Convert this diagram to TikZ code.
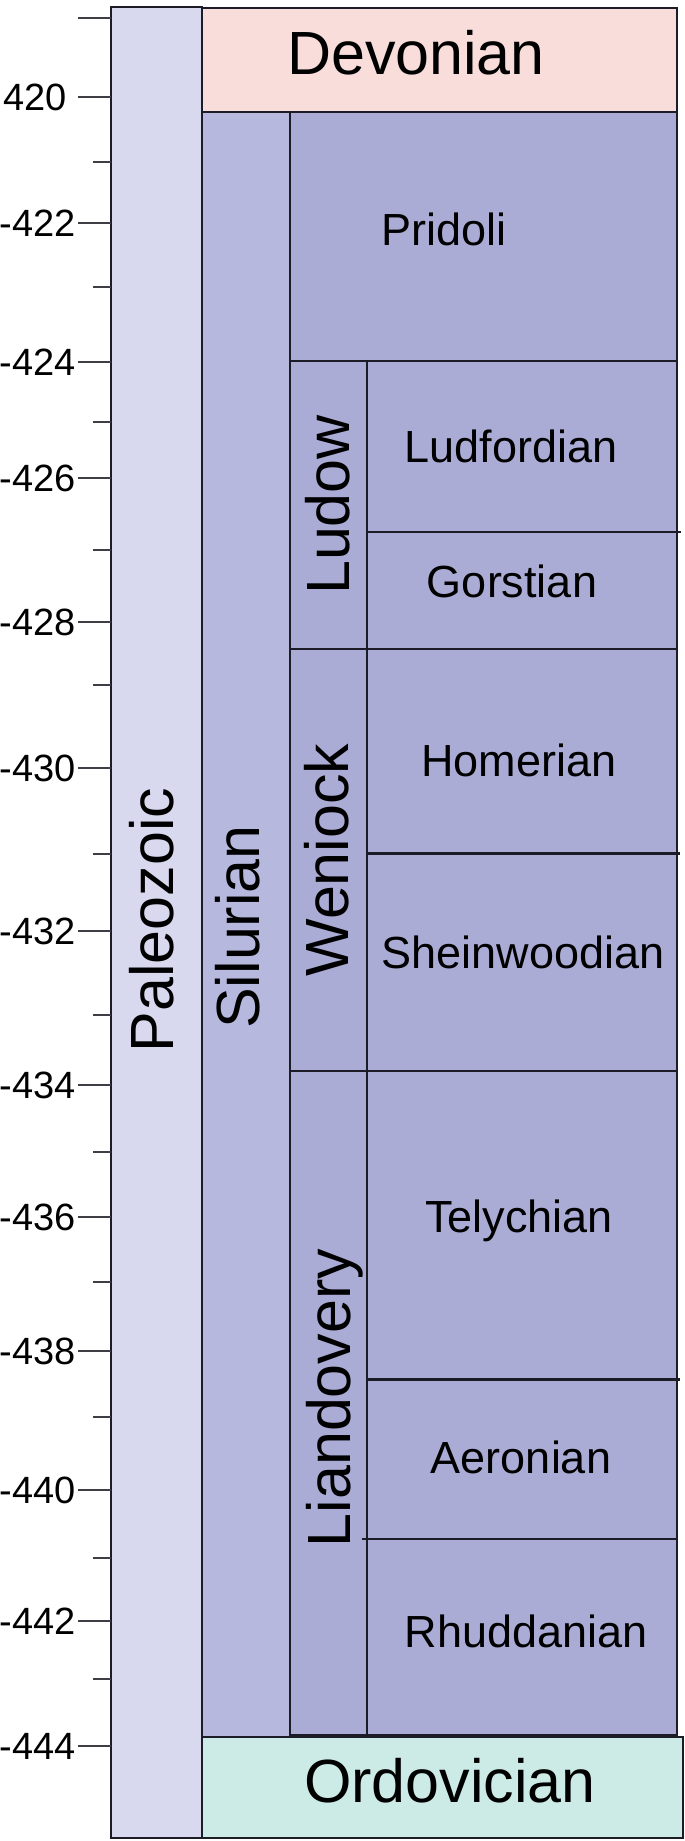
\documentclass[tikz,border=0pt]{standalone}
\usepackage{fontspec}
\setmainfont{Liberation Sans}
\definecolor{paleo}{RGB}{216,217,238}
\definecolor{devon}{RGB}{248,221,219}
\definecolor{silur}{RGB}{182,184,221}
\definecolor{stagec}{RGB}{170,172,213}
\definecolor{ordov}{RGB}{204,234,230}
\definecolor{linec}{RGB}{28,28,38}
\begin{document}
\begin{tikzpicture}[x=1pt,y=-1pt,
  frame/.style={draw=linec, line width=1.6pt},
  thickline/.style={draw=linec, line width=3pt},
  majtick/.style={draw=linec!85!white, line width=2.2pt},
  mintick/.style={draw=linec!85!white, line width=2.2pt},
  ticklab/.style={anchor=east, inner sep=0pt, font=\fontsize{38}{38}\selectfont},
  biglab/.style={inner sep=0pt, anchor=base, font=\fontsize{61}{61}\selectfont},
  stagelab/.style={inner sep=0pt, anchor=base, font=\fontsize{45}{45}\selectfont},
  vlab/.style={inner sep=0pt, anchor=base, rotate=90, font=\fontsize{61}{61}\selectfont}]
\useasboundingbox (0,0) rectangle (685,1841);
\fill[white] (0,0) rectangle (685,1841);

% columns
\filldraw[fill=paleo, frame] (111,7) rectangle (202,1838);
\filldraw[fill=devon, frame] (202,8) rectangle (677,112);
\filldraw[fill=silur, frame] (202,112) rectangle (290,1737);
% series
\filldraw[fill=stagec, frame] (290,112) rectangle (677,361);
\filldraw[fill=stagec, frame] (290,361) rectangle (367,649);
\filldraw[fill=stagec, frame] (290,649) rectangle (367,1071);
\filldraw[fill=stagec, frame] (290,1071) rectangle (367,1735);
% stages
\filldraw[fill=stagec, frame] (367,361) rectangle (677,532);
\filldraw[fill=stagec, frame] (367,532) rectangle (677,649);
\filldraw[fill=stagec, frame] (367,649) rectangle (677,853);
\filldraw[fill=stagec, frame] (367,853) rectangle (677,1071);
\filldraw[fill=stagec, frame] (367,1071) rectangle (677,1379);
\filldraw[fill=stagec, frame] (367,1379) rectangle (677,1539);
\filldraw[fill=stagec, frame] (367,1539) rectangle (677,1735);
\draw[frame] (677,532) -- (681,532);
\draw[thickline] (367,853) -- (680,853);
\draw[thickline] (367,1379) -- (680,1379);
\draw[frame] (362,1539) -- (367,1539);
% Ordovician
\filldraw[fill=ordov, frame] (202,1737) rectangle (683,1838);

% axis ticks
\foreach \y in {18,97,223,362,478,622,768,931,1085,1217,1351,1490,1621,1746}
  \draw[majtick] (78,\y) -- (111,\y);
\foreach \y in {162,287,422,550,685,854,1015,1152,1282,1417,1558,1679}
  \draw[mintick] (93,\y) -- (111,\y);
\node[ticklab] (t420) at (67,97) {420};
\foreach \y/\t in {223/-422,362/-424,478/-426,622/-428,768/-430,931/-432,1085/-434,1217/-436,1351/-438,1490/-440,1621/-442,1746/-444}
  \node[ticklab] (t\y) at (76,\y) {\t};

% labels
\node[biglab] (devonian) at (416,75) {Devonian};
\node[biglab] (ordovician) at (450,1802) {Ordovician};
\node[vlab] (paleozoic) at (173,920) {Paleozoic};
\node[vlab] (silurian) at (259,927) {Silurian};
\node[vlab] (ludow) at (349,505) {Ludow};
\node[vlab] (weniock) at (348,860) {Weniock};
\node[vlab] (liandovery) at (350,1398) {Liandovery};
\node[stagelab] (pridoli) at (444,245) {Pridoli};
\node[stagelab] (ludfordian) at (511,462) {Ludfordian};
\node[stagelab] (gorstian) at (512,597) {Gorstian};
\node[stagelab] (homerian) at (519,776) {Homerian};
\node[stagelab] (sheinwoodian) at (523,968) {Sheinwoodian};
\node[stagelab] (telychian) at (519,1232) {Telychian};
\node[stagelab] (aeronian) at (521,1473) {Aeronian};
\node[stagelab] (rhuddanian) at (526,1647) {Rhuddanian};
\end{tikzpicture}
\end{document}
